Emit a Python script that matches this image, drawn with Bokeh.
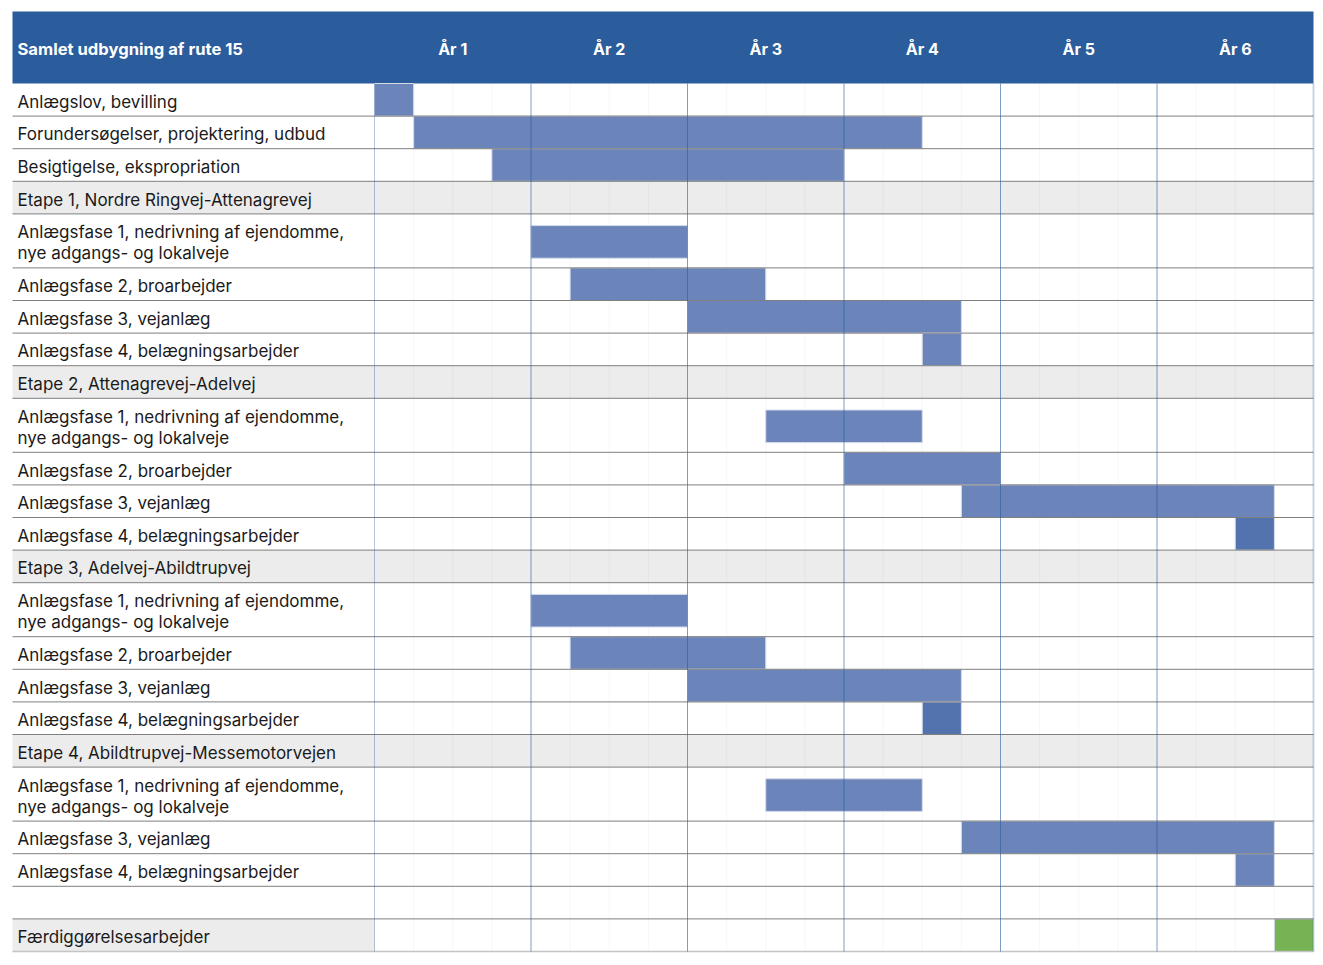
from bokeh.plotting import figure
from bokeh.models import Range1d, ColumnDataSource
from bokeh.core.properties import value
from bokeh.embed import file_html
from bokeh.resources import INLINE

# ---------------- data ----------------
header_title = "Samlet udbygning af rute 15"
years = ["År 1", "År 2", "År 3", "År 4", "År 5", "År 6"]

labels = [
    "Anlægslov, bevilling",
    "Forundersøgelser, projektering, udbud",
    "Besigtigelse, ekspropriation",
    "Etape 1, Nordre Ringvej-Attenagrevej",
    "Anlægsfase 1, nedrivning af ejendomme,\nnye adgangs- og lokalveje",
    "Anlægsfase 2, broarbejder",
    "Anlægsfase 3, vejanlæg",
    "Anlægsfase 4, belægningsarbejder",
    "Etape 2, Attenagrevej-Adelvej",
    "Anlægsfase 1, nedrivning af ejendomme,\nnye adgangs- og lokalveje",
    "Anlægsfase 2, broarbejder",
    "Anlægsfase 3, vejanlæg",
    "Anlægsfase 4, belægningsarbejder",
    "Etape 3, Adelvej-Abildtrupvej",
    "Anlægsfase 1, nedrivning af ejendomme,\nnye adgangs- og lokalveje",
    "Anlægsfase 2, broarbejder",
    "Anlægsfase 3, vejanlæg",
    "Anlægsfase 4, belægningsarbejder",
    "Etape 4, Abildtrupvej-Messemotorvejen",
    "Anlægsfase 1, nedrivning af ejendomme,\nnye adgangs- og lokalveje",
    "Anlægsfase 3, vejanlæg",
    "Anlægsfase 4, belægningsarbejder",
    "",
    "Færdiggørelsesarbejder",
]
row_kind = ["task", "task", "task", "group", "task", "task", "task", "task",
            "group", "task", "task", "task", "task",
            "group", "task", "task", "task", "task",
            "group", "task", "task", "task", "blank", "final"]
# start / end in quarters (0 = start of År 1)
bar_start = [0, 1, 3, None, 4, 5, 8, 14, None, 10, 12, 15, 22, None, 4, 5, 8, 14, None, 10, 15, 22, None, 23]
bar_end   = [1, 14, 12, None, 8, 10, 15, 15, None, 14, 16, 23, 23, None, 8, 10, 15, 15, None, 14, 23, 23, None, 24]
bar_tone  = ["n", "n", "n", None, "n", "n", "n", "n", None, "n", "n", "n", "d", None, "n", "n", "n", "d", None, "n", "n", "n", None, "g"]
quarters_per_year = 4

# ---------------- layout ----------------
W, H = 1323, 965
Q = 939 / 24.0              # pixels per quarter
X_LEFT = (12 - 374) / Q      # left edge of label column
X_RIGHT = 24
HEAD_TOP, HEAD_BOT = 11, 83
SINGLE, DOUBLE = 32.6, 54.0

BLUE_HEAD = "#2b5c9b"
BAR = {"n": "#6b84ba", "d": "#5273ae", "g": "#75b355"}

p = figure(width=W, height=H, output_backend="svg", toolbar_location=None,
           x_range=Range1d(-374 / Q, (W - 374) / Q), y_range=Range1d(H, 0),
           min_border=0, min_border_left=0, min_border_right=0,
           min_border_top=0, min_border_bottom=0)
p.axis.visible = False
p.xgrid.visible = False
p.ygrid.visible = False
p.outline_line_color = None
p.background_fill_color = "white"
p.border_fill_color = "white"

# row geometry
tops, bots = [], []
y = HEAD_BOT
for lab in labels:
    h = DOUBLE if "\n" in lab else SINGLE
    tops.append(y)
    bots.append(y + h)
    y += h
TABLE_BOT = y

# header band
p.quad(left=[X_LEFT], right=[X_RIGHT], top=[HEAD_TOP], bottom=[HEAD_BOT],
       fill_color=BLUE_HEAD, line_color=None)

# grey rows
gl, gr, gt, gb = [], [], [], []
for k, t, b in zip(row_kind, tops, bots):
    if k == "group":
        gl.append(X_LEFT); gr.append(X_RIGHT); gt.append(t); gb.append(b)
    elif k == "final":
        gl.append(X_LEFT); gr.append(0); gt.append(t); gb.append(b)
p.quad(left=gl, right=gr, top=gt, bottom=gb, fill_color="#ececec", line_color=None)

# quarter lines (faint)
qx = [q for q in range(1, 24) if q % quarters_per_year != 0]
p.segment(x0=qx, x1=qx, y0=[HEAD_BOT] * len(qx), y1=[TABLE_BOT] * len(qx),
          line_color="#000000", line_alpha=0.035, line_width=1)

# bars
bl, br, bt, bb, bc = [], [], [], [], []
for s, e, tone, t, b in zip(bar_start, bar_end, bar_tone, tops, bots):
    if s is None:
        continue
    h = b - t
    if h > SINGLE + 1:
        c = (t + b) / 2 + 1
        t2, b2 = c - SINGLE / 2, c + SINGLE / 2
    else:
        t2, b2 = t, b
    bl.append(s); br.append(e); bt.append(t2); bb.append(b2); bc.append(BAR[tone])
p.quad(left=bl, right=br, top=bt, bottom=bb, fill_color=bc,
       line_color="#d6dbe8", line_width=1)

# horizontal row lines
hy = bots[:-1]
p.segment(x0=[X_LEFT] * len(hy), x1=[X_RIGHT] * len(hy), y0=hy, y1=hy,
          line_color="#7f7f7f", line_width=1)
p.segment(x0=[X_LEFT], x1=[X_RIGHT], y0=[TABLE_BOT], y1=[TABLE_BOT],
          line_color="#c4c4c4", line_width=1.5)

# year lines
yx = [q * quarters_per_year for q in range(1, 6)]
p.segment(x0=yx, x1=yx, y0=[HEAD_BOT] * len(yx), y1=[TABLE_BOT] * len(yx),
          line_color="#2b5c9b", line_alpha=0.6, line_width=1)
p.segment(x0=[0], x1=[0], y0=[HEAD_BOT], y1=[TABLE_BOT],
          line_color="#2b5c9b", line_alpha=0.35, line_width=1)
p.segment(x0=[X_RIGHT], x1=[X_RIGHT], y0=[HEAD_BOT], y1=[TABLE_BOT],
          line_color="#2b5c9b", line_alpha=0.25, line_width=2)

# header texts
p.text(x=[X_LEFT], y=[(HEAD_TOP + HEAD_BOT) / 2 + 1], text=[header_title],
       x_offset=5, text_font=value("Inter"), text_font_size="16.6px",
       text_font_style="bold", text_color="white",
       text_baseline="middle", text_align="left")
p.text(x=[i * quarters_per_year + 2 for i in range(len(years))],
       y=[(HEAD_TOP + HEAD_BOT) / 2 + 1] * len(years), text=years,
       text_font=value("Inter"), text_font_size="16px", text_font_style="bold",
       text_color="white", text_baseline="middle", text_align="center")

# row labels
src = ColumnDataSource(dict(x=[X_LEFT] * len(labels),
                            y=[(t + b) / 2 + 2 for t, b in zip(tops, bots)],
                            text=labels))
p.text(x="x", y="y", text="text", source=src, x_offset=5,
       text_font=value("Inter"), text_font_size="17px", text_color="#1a1a1a",
       text_baseline="middle", text_align="left", text_line_height=1.05)

open("out.html", "w").write(file_html(p, INLINE))
